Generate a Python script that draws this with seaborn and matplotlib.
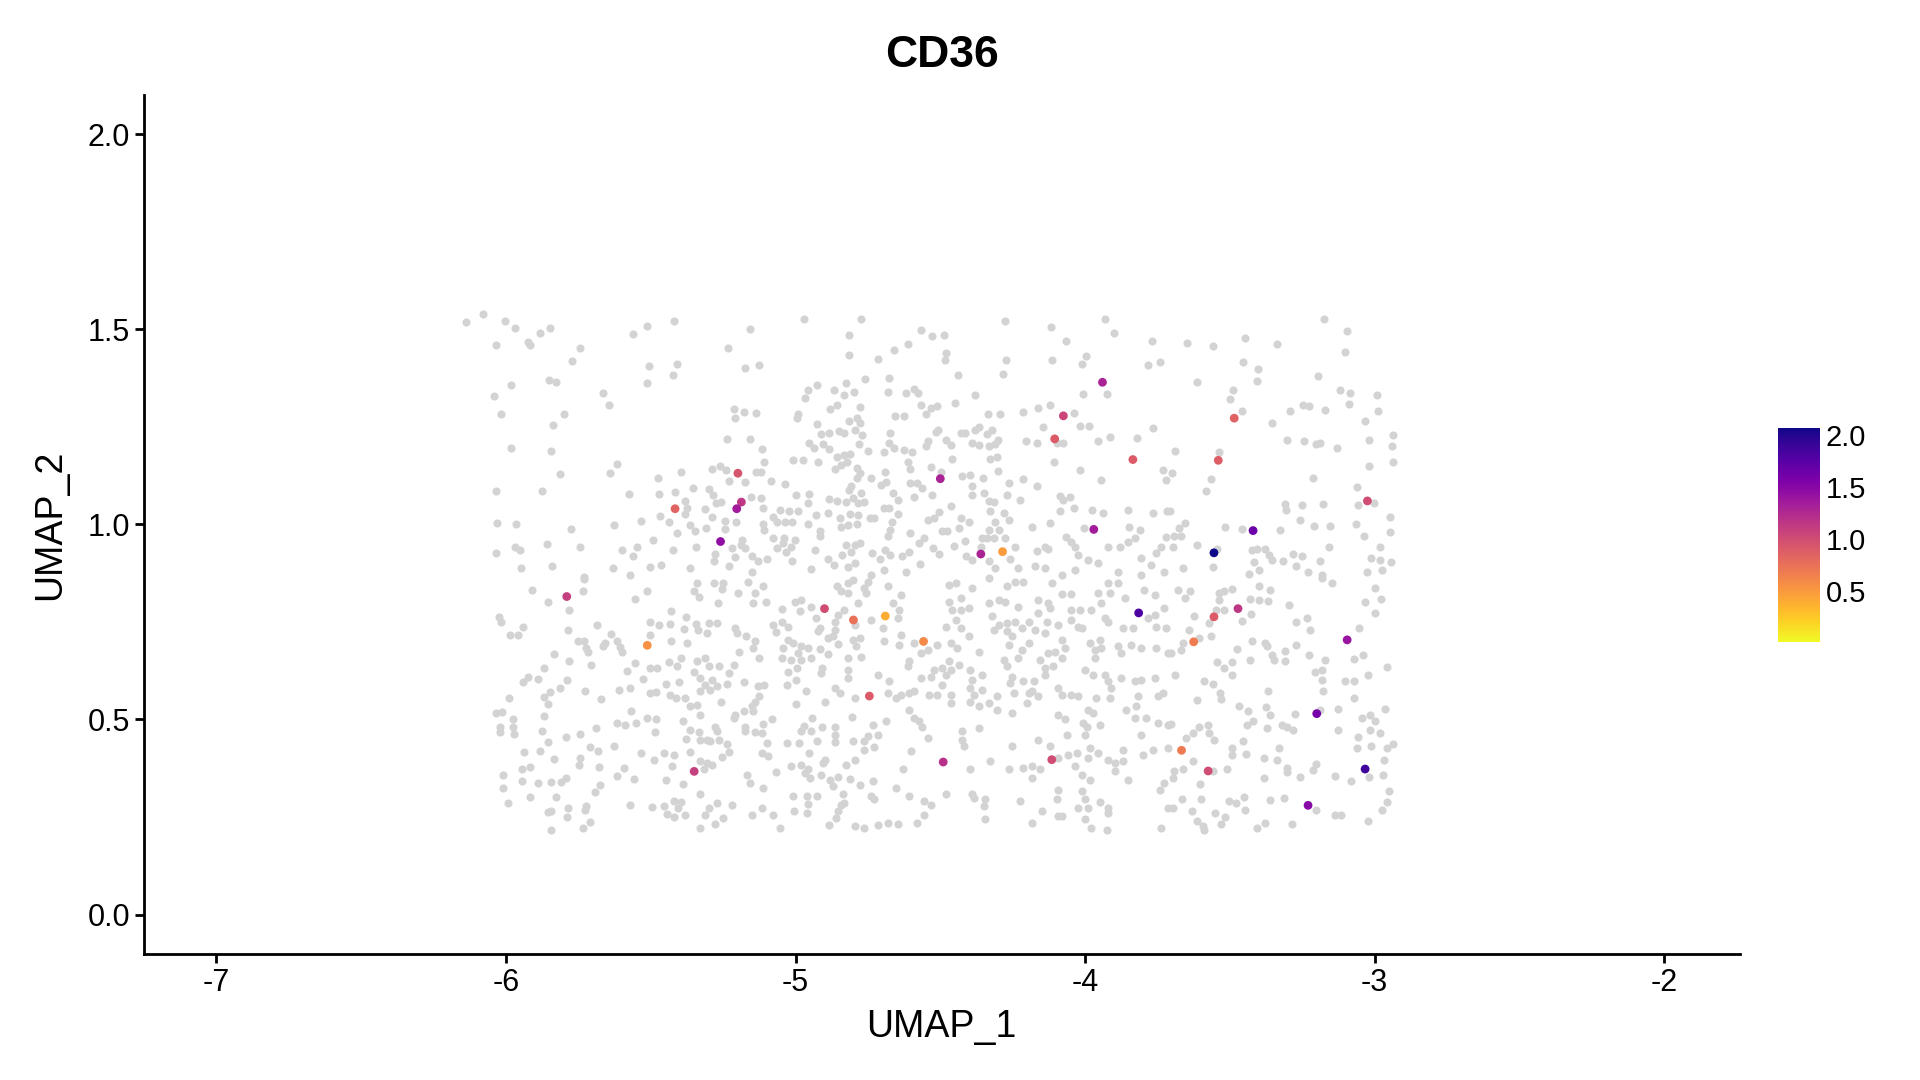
import numpy as np
import pandas as pd
import matplotlib
matplotlib.use("Agg")
import matplotlib.pyplot as plt
import seaborn as sns

# UMAP coordinates of cells without CD36 expression (drawn grey)
grey_umap = [
    (-6.138, 1.519),
    # top-left block
    (-6.078, 1.539), (-6.002, 1.521), (-5.969, 1.504), (-5.884, 1.490), (-5.849, 1.504), (-5.924, 1.466),
    (-5.916, 1.459), (-6.036, 1.459), (-5.743, 1.451), (-5.773, 1.418), (-5.562, 1.488), (-5.512, 1.508),
    (-5.421, 1.522), (-5.507, 1.405), (-5.409, 1.412), (-5.424, 1.382), (-5.513, 1.361), (-5.851, 1.370),
    (-5.827, 1.366), (-5.983, 1.358), (-6.040, 1.329), (-5.666, 1.336), (-5.645, 1.306), (-6.016, 1.282),
    (-5.801, 1.282), (-5.837, 1.254), (-5.983, 1.196), (-5.844, 1.188), (-5.615, 1.154), (-5.642, 1.132),
    (-5.812, 1.130), (-5.395, 1.135), (-5.476, 1.118), (-6.035, 1.086), (-5.876, 1.086), (-5.576, 1.079),
    (-5.470, 1.078), (-5.417, 1.082), (-5.355, 1.092), (-5.383, 1.060), (-5.374, 1.041), (-5.380, 1.027),
    (-6.030, 1.003), (-5.967, 1.001), (-5.775, 0.989), (-5.628, 0.998), (-5.535, 1.009), (-5.468, 1.021),
    (-5.437, 1.007), (-5.366, 0.999), (-5.346, 0.983), (-5.409, 0.977), (-5.492, 0.960), (-5.859, 0.950),
    (-5.969, 0.942), (-5.950, 0.933), (-6.034, 0.927), (-5.743, 0.941), (-5.598, 0.934), (-5.546, 0.942),
    (-5.561, 0.920), (-5.424, 0.933), (-5.345, 0.941), (-5.947, 0.888), (-5.841, 0.892), (-5.630, 0.889),
    (-5.572, 0.871), (-5.501, 0.891), (-5.464, 0.896), (-5.364, 0.889), (-5.732, 0.866),
    # bottom-left block
    (-5.911, 0.832), (-5.734, 0.828), (-5.730, 0.859), (-5.855, 0.800), (-5.781, 0.781), (-6.024, 0.762),
    (-6.018, 0.751), (-5.941, 0.738), (-5.985, 0.717), (-5.957, 0.717), (-5.787, 0.729), (-5.686, 0.743),
    (-5.752, 0.702), (-5.730, 0.702), (-5.725, 0.683), (-5.718, 0.674), (-5.638, 0.720), (-5.618, 0.702),
    (-5.664, 0.687), (-5.659, 0.696), (-5.607, 0.685), (-5.600, 0.674), (-5.833, 0.668), (-5.781, 0.651),
    (-5.706, 0.639), (-5.867, 0.631), (-5.923, 0.609), (-5.940, 0.596), (-5.888, 0.604), (-5.788, 0.600),
    (-5.812, 0.580), (-5.848, 0.570), (-5.869, 0.557), (-5.854, 0.540), (-5.988, 0.556), (-5.726, 0.573),
    (-5.672, 0.553), (-5.609, 0.575), (-5.571, 0.581), (-5.582, 0.624), (-5.554, 0.645), (-5.527, 0.604),
    (-5.501, 0.631), (-5.480, 0.631), (-5.504, 0.750), (-5.470, 0.742), (-5.501, 0.716), (-5.556, 0.809),
    (-5.514, 0.830), (-5.429, 0.777), (-5.432, 0.745), (-5.377, 0.762), (-5.386, 0.732), (-5.343, 0.745),
    (-5.337, 0.728), (-5.429, 0.701), (-5.375, 0.695), (-5.349, 0.828), (-5.333, 0.815), (-5.341, 0.850),
    (-5.438, 0.647), (-5.397, 0.657), (-5.409, 0.636), (-5.340, 0.651), (-5.351, 0.621), (-5.329, 0.606),
    (-5.448, 0.592), (-5.402, 0.596), (-5.329, 0.572), (-5.501, 0.567), (-5.483, 0.571), (-5.432, 0.563),
    (-5.414, 0.555), (-5.380, 0.555), (-5.365, 0.534), (-5.340, 0.538), (-5.567, 0.522), (-5.512, 0.504),
    (-5.483, 0.502), (-5.387, 0.497), (-5.329, 0.512), (-5.363, 0.474), (-5.378, 0.449), (-5.333, 0.468),
    (-5.329, 0.448), (-5.550, 0.492), (-5.618, 0.492), (-5.588, 0.487), (-5.689, 0.477), (-5.487, 0.467),
    (-5.867, 0.510), (-5.974, 0.500), (-5.977, 0.482), (-6.021, 0.481), (-6.020, 0.467), (-5.972, 0.463),
    (-6.035, 0.517), (-6.013, 0.519), (-5.875, 0.470), (-5.855, 0.442), (-5.791, 0.454), (-5.744, 0.464),
    (-5.710, 0.430), (-5.682, 0.419), (-5.627, 0.432), (-5.535, 0.414), (-5.489, 0.395), (-5.454, 0.415),
    (-5.418, 0.408), (-5.366, 0.417), (-5.427, 0.382), (-5.329, 0.393), (-5.938, 0.416), (-5.882, 0.418),
    (-5.835, 0.399), (-5.746, 0.401), (-5.749, 0.383), (-5.678, 0.379), (-5.592, 0.376), (-5.615, 0.356),
    (-5.557, 0.347), (-5.448, 0.346), (-5.388, 0.334), (-5.329, 0.309), (-6.010, 0.357), (-5.918, 0.378),
    (-5.945, 0.374), (-5.945, 0.342), (-5.888, 0.336), (-5.845, 0.341), (-5.811, 0.340), (-5.791, 0.349),
    (-5.675, 0.333), (-5.691, 0.314), (-6.009, 0.325), (-5.918, 0.302), (-5.828, 0.302), (-5.994, 0.285),
    (-5.785, 0.272), (-5.856, 0.264), (-5.846, 0.265), (-5.725, 0.278), (-5.727, 0.268), (-5.789, 0.250),
    (-5.710, 0.238), (-5.733, 0.222), (-5.845, 0.218), (-5.572, 0.282), (-5.495, 0.275), (-5.454, 0.279),
    (-5.419, 0.292), (-5.394, 0.288), (-5.406, 0.273), (-5.445, 0.258), (-5.418, 0.250), (-5.380, 0.256),
    (-5.329, 0.222),
    # top centre-left block
    (-4.971, 1.525), (-4.775, 1.526), (-5.156, 1.500), (-4.816, 1.485), (-4.565, 1.497), (-4.529, 1.483),
    (-5.234, 1.453), (-4.661, 1.446), (-4.611, 1.463), (-4.817, 1.433), (-4.716, 1.423), (-5.174, 1.401),
    (-5.125, 1.407), (-4.761, 1.372), (-4.678, 1.374), (-4.824, 1.362), (-4.926, 1.356), (-4.957, 1.345),
    (-4.967, 1.323), (-4.867, 1.343), (-4.834, 1.332), (-4.799, 1.338), (-4.680, 1.338), (-4.617, 1.337),
    (-4.592, 1.348), (-4.578, 1.336), (-5.211, 1.296), (-5.209, 1.273), (-5.178, 1.287), (-5.135, 1.285),
    (-4.991, 1.282), (-4.994, 1.273), (-4.856, 1.306), (-4.880, 1.296), (-4.778, 1.301), (-4.568, 1.306),
    (-4.533, 1.297), (-4.549, 1.282), (-4.655, 1.278), (-4.626, 1.278), (-4.816, 1.265), (-4.786, 1.273),
    (-4.776, 1.259), (-4.925, 1.258), (-4.794, 1.243), (-4.769, 1.229), (-4.911, 1.232), (-4.883, 1.233),
    (-4.850, 1.238), (-4.832, 1.234), (-4.673, 1.234), (-4.515, 1.237), (-5.236, 1.219), (-5.157, 1.219),
    (-5.116, 1.194), (-4.954, 1.208), (-4.937, 1.195), (-4.904, 1.206), (-4.886, 1.193), (-4.781, 1.207),
    (-4.751, 1.187), (-4.694, 1.186), (-4.676, 1.208), (-4.659, 1.195), (-4.625, 1.190), (-4.599, 1.186),
    (-4.544, 1.214), (-4.550, 1.202), (-5.008, 1.166), (-4.973, 1.164), (-4.923, 1.161), (-4.856, 1.172),
    (-4.831, 1.178), (-4.812, 1.179), (-4.822, 1.159), (-4.842, 1.152), (-4.864, 1.142), (-4.789, 1.145),
    (-4.777, 1.132), (-4.787, 1.120), (-4.740, 1.118), (-4.691, 1.133), (-4.611, 1.161), (-4.604, 1.142),
    (-4.531, 1.146), (-5.288, 1.142), (-5.260, 1.149), (-5.241, 1.139), (-5.136, 1.134), (-5.108, 1.159),
    (-5.119, 1.134), (-5.230, 1.112), (-5.175, 1.109), (-5.085, 1.111), (-5.037, 1.103), (-5.298, 1.090),
    (-5.285, 1.074), (-5.258, 1.058), (-5.276, 1.054), (-5.155, 1.071), (-5.118, 1.067), (-4.999, 1.075),
    (-4.955, 1.079), (-4.886, 1.064), (-4.856, 1.061), (-4.826, 1.058), (-4.800, 1.067), (-4.817, 1.088),
    (-4.808, 1.097), (-4.773, 1.080), (-4.765, 1.058), (-4.785, 1.054), (-4.705, 1.100), (-4.686, 1.108),
    (-4.665, 1.080), (-4.646, 1.063), (-4.603, 1.105), (-4.579, 1.105), (-4.562, 1.092), (-4.590, 1.071),
    (-4.528, 1.074), (-5.312, 1.039), (-5.289, 1.020), (-5.245, 1.009), (-5.205, 1.005), (-5.113, 1.042),
    (-5.079, 1.020), (-5.052, 1.037), (-5.023, 1.033), (-4.991, 1.035), (-4.957, 1.054), (-4.929, 1.024),
    (-4.888, 1.028), (-4.847, 1.015), (-4.812, 1.027), (-4.785, 1.024), (-4.744, 1.016), (-4.728, 1.016),
    (-4.696, 1.041), (-4.678, 1.041), (-4.646, 1.027), (-4.544, 1.010), (-4.522, 1.016), (-5.310, 0.990),
    (-5.245, 0.987), (-5.186, 0.960), (-5.176, 0.939), (-5.190, 0.946), (-5.111, 1.000), (-5.109, 0.986),
    (-5.065, 1.007), (-5.038, 1.007), (-5.012, 1.005), (-4.957, 1.000), (-4.914, 0.983), (-4.917, 0.969),
    (-4.842, 0.993), (-4.818, 0.999), (-4.786, 1.000), (-4.668, 1.006), (-4.673, 0.986), (-4.681, 0.970),
    (-4.604, 0.977), (-4.572, 0.953), (-4.558, 0.964), (-5.277, 0.923), (-5.283, 0.905), (-5.231, 0.892),
    (-5.221, 0.939), (-5.209, 0.917), (-5.151, 0.920), (-5.128, 0.907), (-5.099, 0.910), (-5.077, 0.964),
    (-5.039, 0.966), (-5.044, 0.952), (-5.002, 0.961), (-5.015, 0.941), (-5.065, 0.939), (-5.033, 0.929),
    (-4.934, 0.933), (-5.012, 0.907), (-4.945, 0.885), (-4.888, 0.912), (-4.867, 0.895), (-4.840, 0.922),
    (-4.824, 0.946), (-4.794, 0.946), (-4.776, 0.952), (-4.808, 0.930), (-4.820, 0.890), (-4.793, 0.900),
    (-4.737, 0.926), (-4.708, 0.912), (-4.690, 0.935), (-4.674, 0.922), (-4.633, 0.920), (-4.607, 0.930),
    (-4.570, 0.898), (-4.524, 0.939), (-4.693, 0.884), (-4.617, 0.879), (-4.739, 0.871), (-5.151, 0.879),
    # bottom centre-left block
    (-5.283, 0.849), (-5.252, 0.849), (-5.254, 0.835), (-5.197, 0.824), (-5.164, 0.853), (-5.140, 0.824),
    (-5.111, 0.841), (-5.102, 0.802), (-5.146, 0.798), (-5.269, 0.798), (-5.300, 0.747), (-5.271, 0.747),
    (-5.306, 0.721), (-5.209, 0.734), (-5.203, 0.721), (-5.171, 0.715), (-5.140, 0.700), (-5.146, 0.683),
    (-5.194, 0.673), (-5.126, 0.657), (-5.312, 0.657), (-5.300, 0.636), (-5.266, 0.636), (-5.231, 0.619),
    (-5.211, 0.639), (-5.289, 0.602), (-5.271, 0.585), (-5.294, 0.576), (-5.312, 0.589), (-5.236, 0.591),
    (-5.178, 0.596), (-5.131, 0.587), (-5.108, 0.588), (-5.258, 0.545), (-5.126, 0.559), (-5.140, 0.546),
    (-5.151, 0.534), (-5.179, 0.522), (-5.209, 0.512), (-5.214, 0.504), (-5.146, 0.522), (-5.080, 0.502),
    (-5.113, 0.489), (-5.174, 0.482), (-5.174, 0.470), (-5.140, 0.468), (-5.117, 0.465), (-5.277, 0.482),
    (-5.271, 0.470), (-5.306, 0.448), (-5.294, 0.444), (-5.266, 0.447), (-5.237, 0.436), (-5.231, 0.417),
    (-5.254, 0.404), (-5.306, 0.389), (-5.289, 0.384), (-5.317, 0.372), (-5.100, 0.440), (-5.117, 0.414),
    (-5.094, 0.407), (-5.048, 0.657), (-5.042, 0.683), (-5.025, 0.704), (-5.008, 0.696), (-4.980, 0.687),
    (-4.957, 0.683), (-4.991, 0.670), (-5.014, 0.653), (-4.980, 0.653), (-4.945, 0.657), (-4.994, 0.632),
    (-5.025, 0.621), (-4.997, 0.600), (-5.028, 0.589), (-4.965, 0.574), (-4.917, 0.680), (-4.888, 0.668),
    (-4.909, 0.632), (-4.913, 0.619), (-5.046, 0.783), (-5.048, 0.751), (-5.025, 0.736), (-5.079, 0.743),
    (-5.069, 0.725), (-5.002, 0.802), (-4.980, 0.805), (-4.985, 0.777), (-4.945, 0.789), (-4.928, 0.760),
    (-4.917, 0.734), (-4.922, 0.726), (-4.888, 0.708), (-4.871, 0.713), (-4.854, 0.693), (-4.865, 0.730),
    (-4.865, 0.751), (-4.854, 0.768), (-4.831, 0.781), (-4.856, 0.841), (-4.842, 0.828), (-4.819, 0.824),
    (-4.819, 0.849), (-4.802, 0.858), (-4.762, 0.836), (-4.785, 0.798), (-4.796, 0.743), (-4.802, 0.704),
    (-4.779, 0.708), (-4.791, 0.687), (-4.819, 0.657), (-4.819, 0.627), (-4.819, 0.606), (-4.773, 0.660),
    (-4.751, 0.853), (-4.756, 0.824), (-4.682, 0.841), (-4.636, 0.818), (-4.665, 0.798), (-4.642, 0.781),
    (-4.647, 0.760), (-4.699, 0.734), (-4.739, 0.755), (-4.693, 0.700), (-4.636, 0.717), (-4.642, 0.691),
    (-4.590, 0.696), (-4.567, 0.670), (-4.544, 0.679), (-4.607, 0.649), (-4.613, 0.636), (-4.567, 0.606),
    (-4.522, 0.627), (-4.533, 0.610), (-4.716, 0.615), (-4.676, 0.598), (-4.682, 0.568), (-4.653, 0.555),
    (-4.636, 0.563), (-4.607, 0.568), (-4.590, 0.572), (-4.539, 0.563), (-4.607, 0.525), (-4.590, 0.504),
    (-4.573, 0.495), (-4.562, 0.482), (-4.544, 0.453), (-4.602, 0.418), (-4.688, 0.495), (-4.733, 0.487),
    (-4.716, 0.461), (-4.751, 0.457), (-4.762, 0.444), (-4.802, 0.444), (-4.728, 0.429), (-4.762, 0.423),
    (-4.804, 0.506), (-4.865, 0.581), (-4.848, 0.568), (-4.794, 0.555), (-4.897, 0.545), (-5.000, 0.540),
    (-4.942, 0.504), (-4.971, 0.484), (-4.980, 0.471), (-4.945, 0.471), (-4.909, 0.481), (-4.865, 0.480),
    (-4.865, 0.459), (-4.865, 0.442), (-4.925, 0.444), (-4.989, 0.440), (-5.028, 0.439), (-4.954, 0.414),
    (-4.899, 0.397), (-4.905, 0.389), (-4.827, 0.384), (-4.796, 0.397), (-5.014, 0.380), (-4.980, 0.384),
    (-4.968, 0.363), (-4.951, 0.350), (-4.957, 0.372), (-5.168, 0.359), (-5.157, 0.337), (-5.113, 0.325),
    (-5.069, 0.366), (-4.911, 0.359), (-4.882, 0.346), (-4.871, 0.329), (-4.854, 0.352), (-4.813, 0.348),
    (-4.776, 0.331), (-4.731, 0.342), (-4.653, 0.325), (-4.630, 0.372), (-4.607, 0.303), (-4.739, 0.303),
    (-4.730, 0.295), (-4.836, 0.308), (-4.842, 0.282), (-4.854, 0.265), (-4.859, 0.248), (-4.831, 0.286),
    (-4.925, 0.303), (-4.959, 0.303), (-4.957, 0.284), (-4.959, 0.261), (-5.008, 0.303), (-5.006, 0.265),
    (-5.117, 0.273), (-5.151, 0.256), (-5.077, 0.256), (-5.220, 0.282), (-5.271, 0.286), (-5.300, 0.273),
    (-5.249, 0.248), (-5.277, 0.231), (-5.312, 0.256), (-5.054, 0.221), (-4.886, 0.229), (-4.796, 0.227),
    (-4.762, 0.222), (-4.716, 0.229), (-4.682, 0.235), (-4.647, 0.231), (-4.579, 0.235), (-4.556, 0.256),
    (-4.556, 0.290), (-4.533, 0.282),
    # top centre-right block
    (-4.278, 1.521), (-4.118, 1.506), (-3.930, 1.526), (-3.901, 1.490), (-3.768, 1.471), (-4.067, 1.469),
    (-4.487, 1.486), (-4.482, 1.438), (-4.485, 1.421), (-4.273, 1.422), (-4.113, 1.421), (-3.997, 1.431),
    (-4.009, 1.411), (-3.784, 1.408), (-3.741, 1.415), (-4.438, 1.382), (-4.285, 1.384), (-4.379, 1.331),
    (-4.006, 1.333), (-3.923, 1.333), (-4.450, 1.311), (-4.510, 1.303), (-4.334, 1.283), (-4.295, 1.283),
    (-4.215, 1.289), (-4.163, 1.299), (-4.122, 1.306), (-4.037, 1.285), (-4.144, 1.249), (-4.016, 1.251),
    (-3.986, 1.253), (-3.766, 1.246), (-4.507, 1.242), (-4.430, 1.235), (-4.415, 1.235), (-4.381, 1.242),
    (-4.367, 1.250), (-4.321, 1.243), (-4.339, 1.231), (-4.301, 1.216), (-4.482, 1.216), (-4.464, 1.203),
    (-4.390, 1.208), (-4.367, 1.203), (-4.333, 1.201), (-4.310, 1.206), (-4.203, 1.213), (-4.167, 1.209),
    (-4.098, 1.209), (-4.075, 1.209), (-3.954, 1.213), (-3.913, 1.223), (-3.820, 1.220), (-4.459, 1.167),
    (-4.327, 1.167), (-4.304, 1.173), (-4.107, 1.161), (-4.018, 1.138), (-3.732, 1.139), (-3.720, 1.114),
    (-4.499, 1.135), (-4.424, 1.124), (-4.396, 1.127), (-4.352, 1.120), (-4.302, 1.137), (-4.262, 1.105),
    (-4.213, 1.115), (-4.167, 1.097), (-3.946, 1.114), (-4.390, 1.098), (-4.392, 1.074), (-4.350, 1.080),
    (-4.333, 1.060), (-4.316, 1.058), (-4.270, 1.075), (-4.224, 1.063), (-4.087, 1.073), (-4.052, 1.071),
    (-4.075, 1.063), (-4.463, 1.047), (-4.503, 1.031), (-4.327, 1.033), (-4.281, 1.030), (-4.264, 1.011),
    (-4.430, 1.016), (-4.401, 1.007), (-4.436, 0.990), (-4.493, 0.983), (-4.476, 0.983), (-4.333, 0.986),
    (-4.310, 1.007), (-4.298, 0.986), (-4.276, 0.966), (-4.316, 0.964), (-4.339, 0.964), (-4.356, 0.966),
    (-4.184, 0.992), (-4.121, 1.003), (-4.086, 1.034), (-4.039, 1.041), (-3.977, 1.037), (-3.937, 1.030),
    (-3.852, 1.037), (-3.766, 1.028), (-3.718, 1.033), (-4.004, 0.990), (-3.848, 0.992), (-3.810, 0.985),
    (-3.720, 0.967), (-4.453, 0.945), (-4.415, 0.958), (-4.361, 0.943), (-4.241, 0.943), (-4.505, 0.923),
    (-4.413, 0.918), (-4.390, 0.909), (-4.333, 0.905), (-4.258, 0.912), (-4.310, 0.888), (-4.230, 0.888),
    (-4.167, 0.932), (-4.138, 0.941), (-4.127, 0.937), (-4.067, 0.968), (-4.049, 0.956), (-4.035, 0.943),
    (-4.024, 0.922), (-3.989, 0.909), (-3.955, 0.900), (-3.921, 0.943), (-3.881, 0.941), (-3.852, 0.956),
    (-3.829, 0.966), (-3.806, 0.915), (-3.772, 0.896), (-3.755, 0.926), (-3.737, 0.943), (-3.726, 0.879),
    (-4.173, 0.892), (-4.138, 0.888), (-4.081, 0.871), (-4.035, 0.883), (-3.886, 0.879), (-3.806, 0.871),
    # bottom centre-right block
    (-4.470, 0.845), (-4.447, 0.849), (-4.390, 0.836), (-4.333, 0.862), (-4.270, 0.841), (-4.241, 0.853),
    (-4.213, 0.853), (-4.115, 0.849), (-4.081, 0.821), (-4.047, 0.821), (-3.955, 0.824), (-3.921, 0.849),
    (-3.886, 0.849), (-3.915, 0.824), (-3.863, 0.811), (-3.795, 0.832), (-3.760, 0.819), (-3.726, 0.785),
    (-3.760, 0.768), (-3.783, 0.760), (-4.470, 0.802), (-4.430, 0.811), (-4.459, 0.781), (-4.430, 0.781),
    (-4.401, 0.785), (-4.333, 0.798), (-4.298, 0.807), (-4.276, 0.802), (-4.230, 0.789), (-4.161, 0.807),
    (-4.127, 0.798), (-4.161, 0.772), (-4.121, 0.785), (-4.047, 0.781), (-4.018, 0.781), (-3.978, 0.781),
    (-3.944, 0.798), (-4.447, 0.755), (-4.482, 0.738), (-4.430, 0.734), (-4.401, 0.713), (-4.321, 0.764),
    (-4.298, 0.743), (-4.316, 0.730), (-4.270, 0.747), (-4.241, 0.751), (-4.270, 0.726), (-4.218, 0.734),
    (-4.195, 0.751), (-4.173, 0.730), (-4.138, 0.721), (-4.132, 0.751), (-4.092, 0.743), (-4.047, 0.755),
    (-4.012, 0.734), (-4.024, 0.738), (-3.932, 0.760), (-3.921, 0.751), (-3.869, 0.734), (-3.835, 0.734),
    (-3.755, 0.738), (-3.720, 0.734), (-4.510, 0.691), (-4.464, 0.696), (-4.442, 0.683), (-4.367, 0.674),
    (-4.253, 0.713), (-4.264, 0.691), (-4.218, 0.679), (-4.195, 0.696), (-4.230, 0.657), (-4.281, 0.653),
    (-4.270, 0.636), (-4.155, 0.653), (-4.127, 0.670), (-4.104, 0.674), (-4.081, 0.704), (-4.069, 0.683),
    (-4.081, 0.657), (-4.110, 0.636), (-4.138, 0.632), (-4.138, 0.615), (-3.984, 0.696), (-3.966, 0.679),
    (-3.949, 0.704), (-3.944, 0.683), (-3.966, 0.657), (-3.886, 0.687), (-3.875, 0.670), (-3.840, 0.691),
    (-3.806, 0.683), (-3.755, 0.683), (-3.715, 0.670), (-4.470, 0.649), (-4.493, 0.632), (-4.464, 0.627),
    (-4.436, 0.640), (-4.482, 0.615), (-4.396, 0.627), (-4.356, 0.615), (-4.390, 0.602), (-4.493, 0.589),
    (-4.396, 0.580), (-4.356, 0.576), (-4.384, 0.563), (-4.510, 0.563), (-4.464, 0.563), (-4.464, 0.542),
    (-4.396, 0.546), (-4.367, 0.534), (-4.333, 0.542), (-4.304, 0.559), (-4.304, 0.525), (-4.253, 0.610),
    (-4.258, 0.593), (-4.213, 0.598), (-4.178, 0.598), (-4.247, 0.568), (-4.195, 0.568), (-4.161, 0.559),
    (-4.184, 0.572), (-4.201, 0.542), (-4.253, 0.517), (-4.092, 0.581), (-4.081, 0.563), (-4.047, 0.563),
    (-4.024, 0.559), (-4.001, 0.627), (-3.972, 0.615), (-3.932, 0.615), (-3.921, 0.598), (-3.875, 0.606),
    (-3.909, 0.581), (-3.915, 0.555), (-3.961, 0.555), (-3.829, 0.598), (-3.806, 0.602), (-3.760, 0.606),
    (-3.818, 0.559), (-3.749, 0.559), (-3.732, 0.568), (-3.858, 0.525), (-3.829, 0.504), (-3.789, 0.504),
    (-3.749, 0.491), (-3.715, 0.487), (-3.823, 0.534), (-3.989, 0.525), (-3.972, 0.517), (-4.006, 0.491),
    (-3.995, 0.482), (-3.949, 0.487), (-4.092, 0.512), (-4.069, 0.500), (-4.001, 0.461), (-4.064, 0.461),
    (-4.161, 0.448), (-4.121, 0.431), (-4.092, 0.401), (-4.058, 0.410), (-4.029, 0.414), (-3.984, 0.427),
    (-3.955, 0.414), (-3.989, 0.401), (-3.921, 0.397), (-3.898, 0.389), (-3.869, 0.423), (-3.869, 0.393),
    (-3.806, 0.461), (-3.800, 0.410), (-3.766, 0.423), (-3.715, 0.427), (-4.424, 0.470), (-4.424, 0.448),
    (-4.419, 0.431), (-4.367, 0.478), (-4.253, 0.431), (-4.327, 0.393), (-4.396, 0.372), (-4.264, 0.373),
    (-4.213, 0.376), (-4.184, 0.380), (-4.184, 0.350), (-4.155, 0.374), (-4.035, 0.380), (-4.012, 0.359),
    (-3.984, 0.346), (-3.898, 0.367), (-3.852, 0.346), (-3.726, 0.337), (-3.743, 0.320), (-3.715, 0.273),
    (-4.482, 0.309), (-4.390, 0.308), (-4.384, 0.299), (-4.344, 0.295), (-4.350, 0.278), (-4.344, 0.244),
    (-4.224, 0.292), (-4.150, 0.265), (-4.092, 0.320), (-4.098, 0.295), (-4.184, 0.235), (-4.092, 0.252),
    (-4.081, 0.252), (-4.012, 0.316), (-4.001, 0.295), (-4.024, 0.273), (-3.989, 0.273), (-3.949, 0.289),
    (-3.921, 0.273), (-3.921, 0.261), (-4.001, 0.244), (-3.978, 0.222), (-3.926, 0.218), (-3.737, 0.222),
    # top right block
    (-3.175, 1.526), (-3.096, 1.495), (-3.102, 1.442), (-3.648, 1.465), (-3.559, 1.457), (-3.449, 1.478),
    (-3.338, 1.461), (-3.454, 1.415), (-3.402, 1.399), (-3.408, 1.368), (-3.614, 1.364), (-3.195, 1.379),
    (-3.490, 1.343), (-3.501, 1.321), (-3.458, 1.290), (-3.120, 1.343), (-3.085, 1.336), (-3.090, 1.309),
    (-2.993, 1.332), (-3.249, 1.306), (-3.226, 1.303), (-3.171, 1.292), (-3.291, 1.290), (-2.989, 1.290),
    (-3.353, 1.260), (-3.032, 1.266), (-3.304, 1.216), (-3.245, 1.213), (-3.202, 1.205), (-3.188, 1.208),
    (-3.130, 1.195), (-3.019, 1.215), (-2.937, 1.228), (-2.940, 1.200), (-3.688, 1.188), (-3.537, 1.186),
    (-2.935, 1.160), (-3.021, 1.149), (-3.700, 1.131), (-3.564, 1.116), (-3.583, 1.086), (-3.214, 1.118),
    (-3.061, 1.096), (-3.311, 1.051), (-3.306, 1.036), (-3.252, 1.050), (-3.179, 1.051), (-3.056, 1.050),
    (-3.003, 1.055), (-3.706, 1.033), (-2.948, 1.019), (-3.654, 1.003), (-3.675, 0.990), (-3.692, 0.969),
    (-3.669, 0.969), (-3.698, 0.943), (-3.517, 0.992), (-3.458, 0.987), (-3.327, 0.986), (-3.257, 1.012),
    (-3.209, 0.995), (-3.154, 0.997), (-3.064, 1.002), (-3.036, 0.971), (-2.946, 0.981), (-3.612, 0.947),
    (-3.543, 0.936), (-3.423, 0.935), (-3.406, 0.937), (-3.377, 0.937), (-3.366, 0.922), (-3.354, 0.909),
    (-3.417, 0.903), (-3.400, 0.883), (-3.434, 0.873), (-3.283, 0.923), (-3.251, 0.920), (-3.317, 0.906),
    (-3.272, 0.894), (-3.230, 0.877), (-3.188, 0.906), (-3.182, 0.871), (-3.157, 0.941), (-3.011, 0.913),
    (-2.982, 0.941), (-2.982, 0.909), (-2.944, 0.903), (-3.028, 0.877), (-2.976, 0.883), (-3.663, 0.888),
    (-3.558, 0.891),
    # bottom right block
    (-3.680, 0.832), (-3.638, 0.828), (-3.654, 0.811), (-3.537, 0.824), (-3.520, 0.828), (-3.491, 0.835),
    (-3.537, 0.807), (-3.400, 0.841), (-3.360, 0.832), (-3.432, 0.809), (-3.398, 0.805), (-3.369, 0.804),
    (-3.520, 0.781), (-3.549, 0.781), (-3.457, 0.753), (-3.428, 0.770), (-3.625, 0.764), (-3.572, 0.747),
    (-3.640, 0.730), (-3.606, 0.708), (-3.564, 0.713), (-3.663, 0.696), (-3.669, 0.679), (-3.703, 0.670),
    (-3.474, 0.681), (-3.423, 0.700), (-3.377, 0.696), (-3.371, 0.687), (-3.308, 0.676), (-3.270, 0.690),
    (-3.354, 0.666), (-3.348, 0.653), (-3.311, 0.649), (-3.297, 0.794), (-3.270, 0.751), (-3.233, 0.760),
    (-3.222, 0.728), (-3.228, 0.664), (-3.171, 0.653), (-3.182, 0.627), (-3.205, 0.621), (-3.182, 0.600),
    (-3.177, 0.572), (-3.102, 0.599), (-3.071, 0.598), (-3.070, 0.655), (-3.041, 0.666), (-3.024, 0.615),
    (-2.959, 0.634), (-3.053, 0.734), (-3.033, 0.802), (-2.999, 0.836), (-2.979, 0.808), (-2.999, 0.774),
    (-3.182, 0.862), (-3.148, 0.849), (-3.545, 0.647), (-3.520, 0.632), (-3.491, 0.647), (-3.491, 0.615),
    (-3.431, 0.653), (-3.690, 0.613), (-3.589, 0.599), (-3.560, 0.592), (-3.534, 0.568), (-3.532, 0.553),
    (-3.614, 0.551), (-3.368, 0.572), (-3.469, 0.534), (-3.436, 0.523), (-3.375, 0.531), (-3.360, 0.512),
    (-3.274, 0.514), (-3.188, 0.525), (-3.127, 0.528), (-3.070, 0.555), (-2.965, 0.527), (-3.045, 0.504),
    (-3.015, 0.512), (-2.999, 0.495), (-3.016, 0.474), (-2.982, 0.465), (-3.056, 0.454), (-3.062, 0.427),
    (-3.011, 0.431), (-2.959, 0.427), (-2.938, 0.438), (-2.967, 0.397), (-2.971, 0.359), (-3.019, 0.352),
    (-3.082, 0.342), (-3.137, 0.356), (-3.127, 0.473), (-3.703, 0.489), (-3.629, 0.465), (-3.606, 0.482),
    (-3.577, 0.487), (-3.572, 0.465), (-3.554, 0.448), (-3.652, 0.453), (-3.442, 0.487), (-3.419, 0.497),
    (-3.371, 0.478), (-3.320, 0.487), (-3.303, 0.482), (-3.283, 0.472), (-3.455, 0.445), (-3.491, 0.427),
    (-3.491, 0.410), (-3.446, 0.412), (-3.329, 0.427), (-3.383, 0.401), (-3.337, 0.397), (-3.303, 0.376),
    (-3.303, 0.366), (-3.202, 0.386), (-3.214, 0.370), (-3.257, 0.352), (-3.383, 0.350), (-3.511, 0.372),
    (-3.560, 0.369), (-3.629, 0.393), (-3.663, 0.374), (-3.694, 0.367), (-3.604, 0.335), (-3.698, 0.350),
    (-3.667, 0.296), (-3.600, 0.295), (-3.698, 0.272), (-3.631, 0.265), (-3.612, 0.239), (-3.594, 0.227),
    (-3.591, 0.218), (-3.551, 0.261), (-3.517, 0.250), (-3.532, 0.231), (-3.503, 0.290), (-3.480, 0.286),
    (-3.451, 0.302), (-3.448, 0.267), (-3.363, 0.293), (-3.314, 0.299), (-3.379, 0.235), (-3.406, 0.221),
    (-3.285, 0.231), (-3.203, 0.269), (-3.137, 0.255), (-3.117, 0.255), (-3.024, 0.239), (-2.976, 0.269),
    (-2.959, 0.289), (-2.951, 0.316),
]

# cells expressing CD36
cd36_x = [-5.790, -5.512, -5.416, -5.350, -5.259, -5.199, -5.203, -5.187, -4.900, -4.800,
          -4.745, -4.690, -4.558, -4.500, -4.490, -4.360, -4.285, -4.115, -4.105, -4.075,
          -3.970, -3.940, -3.835, -3.815, -3.667, -3.625, -3.575, -3.555, -3.555, -3.540,
          -3.485, -3.472, -3.420, -3.230, -3.200, -3.095, -3.033, -3.025]
cd36_y = [0.815, 0.690, 1.040, 0.367, 0.956, 1.131, 1.040, 1.057, 0.784, 0.755,
          0.560, 0.765, 0.700, 1.117, 0.391, 0.924, 0.930, 0.397, 1.219, 1.278,
          0.987, 1.364, 1.166, 0.773, 0.421, 0.699, 0.368, 0.763, 0.927, 1.164,
          1.272, 0.784, 0.984, 0.280, 0.515, 0.704, 0.373, 1.060]
cd36_expr = [1.10, 0.55, 0.85, 1.10, 1.45, 0.95, 1.35, 1.15, 1.00, 0.75,
             0.90, 0.40, 0.60, 1.30, 1.20, 1.30, 0.50, 1.00, 0.90, 1.05,
             1.35, 1.30, 0.90, 1.80, 0.70, 0.68, 1.00, 0.90, 2.07, 0.88,
             0.85, 1.15, 1.65, 1.50, 1.60, 1.40, 1.88, 1.00]

expr_min, expr_max = 0.02, 2.07
x_ticks = [-7, -6, -5, -4, -3, -2]
y_ticks = [0.0, 0.5, 1.0, 1.5, 2.0]
cbar_ticks = [0.5, 1.0, 1.5, 2.0]

grey_df = pd.DataFrame(grey_umap, columns=["UMAP_1", "UMAP_2"])
expr_df = pd.DataFrame({"UMAP_1": cd36_x, "UMAP_2": cd36_y, "CD36": cd36_expr}).sort_values("CD36")

sns.set_style("ticks")
plt.rcParams["font.family"] = ["Liberation Sans", "DejaVu Sans"]
plt.rcParams["text.color"] = "black"
plt.rcParams["axes.labelcolor"] = "black"

fig = plt.figure(figsize=(19.2, 10.8), dpi=100)
ax = fig.add_axes([0.075, 0.117, 0.831, 0.795])

sns.scatterplot(data=grey_df, x="UMAP_1", y="UMAP_2", color="#d3d3d3", s=34,
                linewidth=0, ax=ax, legend=False)
sns.scatterplot(data=expr_df, x="UMAP_1", y="UMAP_2", hue="CD36", palette="plasma_r",
                hue_norm=(expr_min, expr_max), s=40, linewidth=0, ax=ax, legend=False)

ax.set_xlim(-7.25, -1.74)
ax.set_ylim(-0.1, 2.1)
ax.set_xticks(x_ticks)
ax.set_xticklabels([str(t) for t in x_ticks])
ax.set_yticks(y_ticks)
ax.set_yticklabels([f"{t:.1f}" for t in y_ticks])
sns.despine(ax=ax)
for side in ["left", "bottom"]:
    ax.spines[side].set_linewidth(2.0)
    ax.spines[side].set_color("black")
ax.tick_params(axis="both", labelsize=22, width=2.0, length=6.5, color="black", labelcolor="black")
ax.set_xlabel("UMAP_1", fontsize=27, labelpad=8, color="black")
ax.set_ylabel("UMAP_2", fontsize=27, labelpad=14, color="black")
ax.set_title("CD36", fontsize=32, fontweight="bold", pad=20, color="black")

# colour bar
cax = fig.add_axes([0.926, 0.406, 0.022, 0.198])
sm = plt.cm.ScalarMappable(cmap="plasma_r", norm=plt.Normalize(expr_min, expr_max))
cbar = fig.colorbar(sm, cax=cax, ticks=cbar_ticks)
cbar.outline.set_visible(False)
cbar.ax.set_yticklabels([f"{t:.1f}" for t in cbar_ticks])
cbar.ax.tick_params(labelsize=21, color="white", width=1.2, length=5, direction="in", pad=4,
                    labelcolor="black")

fig.savefig("out.png", dpi=100)
